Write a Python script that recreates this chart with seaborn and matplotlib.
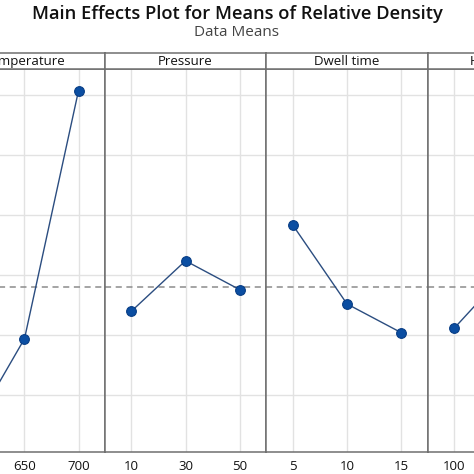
import matplotlib.pyplot as plt
import seaborn as sns
import pandas as pd

# factors and their levels (Minitab main effects plot, cropped view)
factors = ["Temperature", "Pressure", "Dwell time", "Heating rate"]
temperature_levels = ["600", "650", "700"]
pressure_levels = ["10", "30", "50"]
dwell_levels = ["5", "10", "15"]
heating_levels = ["100", "150", "200"]

# mean relative density for each level
temperature_means = [94.69, 95.47, 97.54]
pressure_means = [95.70, 96.12, 95.88]
dwell_means = [96.42, 95.76, 95.52]
heating_means = [95.56, 96.05, 96.09]

grand_mean = 95.90
y_grid = [95.0, 95.5, 96.0, 96.5, 97.0, 97.5]

levels = [temperature_levels, pressure_levels, dwell_levels, heating_levels]
means = [temperature_means, pressure_means, dwell_means, heating_means]

rows = []
for f, lv, mv in zip(factors, levels, means):
    for i, (l, m) in enumerate(zip(lv, mv)):
        rows.append({"factor": f, "pos": i, "level": l, "mean": m})
df = pd.DataFrame(rows)

sns.set_style("white")
plt.rcParams['font.family'] = ['Open Sans', 'DejaVu Sans']

W = H = 474
fig = plt.figure(figsize=(W / 100, H / 100), dpi=100)

# the picture is a crop: first and last panels run past the edges
panels_px = [(-56, 105), (105, 266), (266, 428), (428, 589)]
top, bottom = 69, 452
strip_top = 53
frame = "#6f6f6f"

for k, f in enumerate(factors):
    x0, x1 = panels_px[k]
    ax = fig.add_axes([x0 / W, (H - bottom) / H, (x1 - x0) / W, (bottom - top) / H])
    sub = df[df["factor"] == f]
    ax.axhline(grand_mean, color="#8c8c8c", lw=1.1, ls=(0, (4, 3)), zorder=2)
    sns.lineplot(data=sub, x="pos", y="mean", ax=ax, color="#2b4d80", lw=1.0,
                 marker="o", markersize=7, markerfacecolor="#0b4ea2",
                 markeredgecolor="#083d85", markeredgewidth=0.8, zorder=3)
    ax.set_xticks(range(len(levels[k])))
    ax.set_xticklabels(levels[k])
    ax.set_xlim(-0.49, 2.49)
    ax.set_ylim(94.525, 97.72)
    ax.set_yticks(y_grid)
    ax.set_yticklabels([])
    ax.set_xlabel("")
    ax.set_ylabel("")
    ax.grid(True, color="#e2e2e2", lw=1)
    ax.set_axisbelow(True)
    ax.tick_params(length=0, pad=6, labelsize=9.5, colors="#111111")
    for s in ax.spines.values():
        s.set_color(frame)
        s.set_linewidth(1.1)

    # header strip
    sx = fig.add_axes([x0 / W, (H - top) / H, (x1 - x0) / W, (top - strip_top) / H])
    sx.set_xticks([])
    sx.set_yticks([])
    for s in sx.spines.values():
        s.set_color(frame)
        s.set_linewidth(1.1)
    sx.text(0.5, 0.45, f, ha="center", va="center", fontsize=9.5, color="#111111",
            transform=sx.transAxes)

fig.text(0.5, 1 - 14 / H, "Main Effects Plot for Means of Relative Density",
         ha="center", va="center", fontsize=13.2, fontweight="semibold",
         color="#111111")
fig.text(0.5, 1 - 32 / H, "Data Means", ha="center", va="center",
         fontsize=11, color="#444444")

fig.savefig("out.png", dpi=100)
